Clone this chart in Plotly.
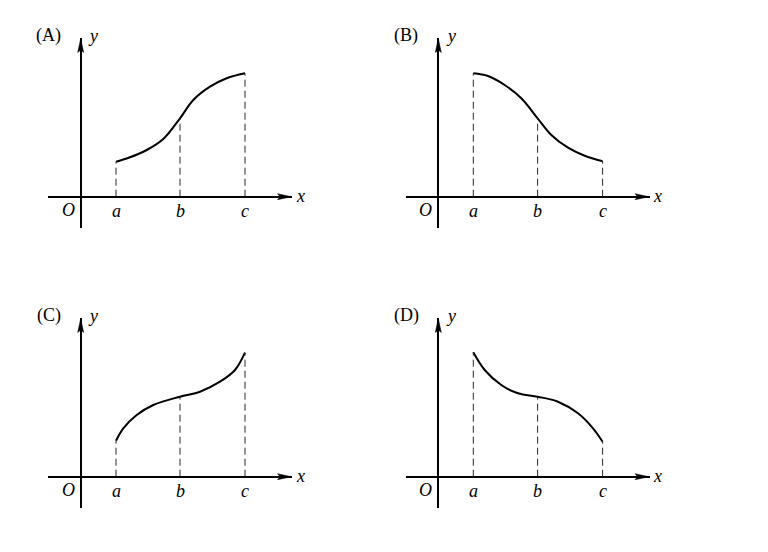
import plotly.graph_objects as go

# the page body has an 8px margin, so the figure is drawn 8px in from the corner
W, H = 760, 544
OFF = 8
FONT = "Liberation Serif"

PANELS = ["(A)", "(B)", "(C)", "(D)"]

# curve samples (x, y in axis units; a, b, c are 1st, middle, last x)
X_A = [3.53, 4.93, 6.60, 8.26, 9.93, 11.26, 12.93, 14.60, 16.43]
Y_A = [3.50, 3.94, 4.67, 5.77, 7.84, 9.67, 11.00, 11.84, 12.34]
X_B = [3.50, 4.97, 6.64, 8.30, 9.93, 11.30, 12.97, 14.64, 16.43]
Y_B = [12.34, 12.07, 11.17, 9.84, 7.84, 6.17, 4.90, 4.10, 3.55]
X_C = [3.53, 4.26, 5.60, 7.26, 9.93, 11.93, 13.93, 15.43, 16.43]
Y_C = [3.60, 4.84, 6.17, 7.17, 8.00, 8.50, 9.50, 10.67, 12.40]
X_D = [3.50, 4.64, 6.30, 7.97, 9.93, 11.97, 13.97, 15.47, 16.43]
Y_D = [12.44, 10.67, 9.17, 8.34, 8.00, 7.50, 6.34, 4.84, 3.50]

TICK_NAMES = ["a", "b", "c"]

CURVES = [(X_A, Y_A), (X_B, Y_B), (X_C, Y_C), (X_D, Y_D)]

# pixel position of the origin O in each panel on the page (layout only)
ORIGINS = [(80.7, 196.7), (438.3, 196.7), (80.7, 476.7), (438.3, 476.7)]
X_RANGE = [-3.27, 21.13]   # 10 px per unit
Y_RANGE = [-3.13, 15.87]

fig = go.Figure()
layout = {}
shapes = []
annotations = []

for i, (label, (xs, ys)) in enumerate(zip(PANELS, CURVES)):
    k = "" if i == 0 else str(i + 1)
    ox, oy = ORIGINS[i][0] - OFF, ORIGINS[i][1] - OFF
    xa, ya = "x" + k, "y" + k

    common = dict(showgrid=False, showticklabels=False, ticks="", showline=False,
                  zeroline=True, zerolinecolor="black", zerolinewidth=1.6,
                  fixedrange=True)
    layout["xaxis" + k] = dict(domain=[(ox - 32.7) / W, (ox + 211.3) / W],
                               range=X_RANGE, anchor=ya, **common)
    layout["yaxis" + k] = dict(domain=[1 - (oy + 31.3) / H, 1 - (oy - 158.7) / H],
                               range=Y_RANGE, anchor=xa, **common)

    fig.add_trace(go.Scatter(
        x=xs, y=ys, mode="lines", xaxis=xa, yaxis=ya,
        line=dict(color="black", width=2, shape="spline", smoothing=1.0),
        hoverinfo="skip", showlegend=False))

    mid = len(xs) // 2
    picks = [0, mid, len(xs) - 1]
    dx, dy = [], []
    for p in picks:
        dx += [xs[p], xs[p], None]
        dy += [0, ys[p], None]
    fig.add_trace(go.Scatter(
        x=dx, y=dy, mode="lines", xaxis=xa, yaxis=ya,
        line=dict(color="#2a2a2a", width=1, dash="7px,4px"),
        hoverinfo="skip", showlegend=False))

    # arrowheads on the axes
    xt, yt = X_RANGE[1] - 0.05, Y_RANGE[1] - 0.05
    L, hw, nt = 1.4, 0.3, 1.15
    shapes.append(dict(type="path", xref=xa, yref=ya, fillcolor="black",
                       line=dict(color="black", width=0.5), layer="above",
                       path=f"M {xt},0 L {xt - L},{hw} L {xt - nt},0 L {xt - L},{-hw} Z"))
    shapes.append(dict(type="path", xref=xa, yref=ya, fillcolor="black",
                       line=dict(color="black", width=0.5), layer="above",
                       path=f"M 0,{yt} L {hw},{yt - L} L 0,{yt - nt} L {-hw},{yt - L} Z"))

    def px_x(p):
        return (ox + p) / W

    def px_y(p):
        return 1 - (oy + p) / H

    f = dict(family=FONT, size=18, color="black")
    mid_anchor = dict(showarrow=False, font=f, xanchor="center", yanchor="middle")
    annotations.append(dict(text=label, x=px_x(-32), y=px_y(-161),
                            xref="paper", yref="paper", **mid_anchor))
    annotations.append(dict(text="<i>y</i>", x=1.25, xref=xa,
                            y=px_y(-161), yref="paper", **mid_anchor))
    annotations.append(dict(text="<i>x</i>", x=px_x(219.5), xref="paper",
                            y=0.1, yref=ya, **mid_anchor))
    annotations.append(dict(text="<i>O</i>", x=-1.25, y=-1.35,
                            xref=xa, yref=ya, **mid_anchor))
    for name, p in zip(TICK_NAMES, picks):
        annotations.append(dict(text=f"<i>{name}</i>", x=xs[p], y=-1.45,
                                xref=xa, yref=ya, **mid_anchor))

fig.update_layout(
    width=W, height=H, autosize=False,
    margin=dict(l=0, r=0, t=0, b=0),
    paper_bgcolor="white", plot_bgcolor="white",
    shapes=shapes, annotations=annotations,
    **layout,
)

fig.write_html("out.html")
